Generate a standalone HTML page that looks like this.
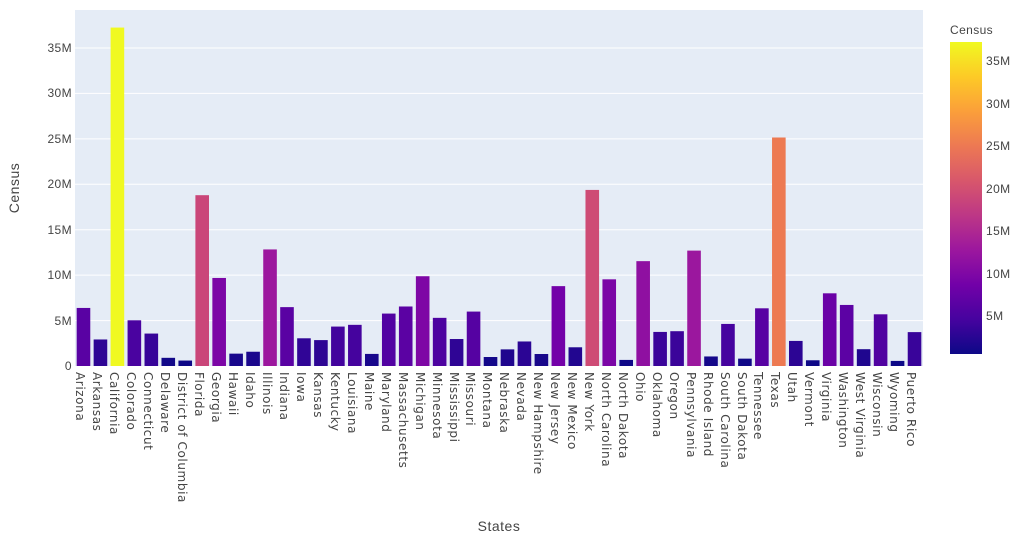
<!DOCTYPE html>
<html><head><meta charset="utf-8"><style>
body{margin:0;background:#fff;}
svg text{font-family:"Liberation Sans",Arial,sans-serif;fill:#444;font-size:12px;}
#lbl text{font-family:"DejaVu Sans",sans-serif;font-size:12px;letter-spacing:0.6px;}
</style></head><body>
<svg id="s" width="1022" height="537" xmlns="http://www.w3.org/2000/svg">
<defs><linearGradient id="cb" x1="0" y1="1" x2="0" y2="0">
<stop offset="0" stop-color="#0d0887"/><stop offset="0.111" stop-color="#46039f"/><stop offset="0.222" stop-color="#7201a8"/><stop offset="0.333" stop-color="#9c179e"/><stop offset="0.444" stop-color="#bd3786"/><stop offset="0.556" stop-color="#d8576b"/><stop offset="0.667" stop-color="#ed7953"/><stop offset="0.778" stop-color="#fb9f3a"/><stop offset="0.889" stop-color="#fdca26"/><stop offset="1" stop-color="#f0f921"/></linearGradient></defs>
<rect x="75" y="10" width="848" height="356" fill="#e5ecf6"/>
<g stroke="#fff" stroke-width="1">
<line x1="75" x2="923" y1="320.6" y2="320.6"/><line x1="75" x2="923" y1="275.1" y2="275.1"/><line x1="75" x2="923" y1="229.7" y2="229.7"/><line x1="75" x2="923" y1="184.3" y2="184.3"/><line x1="75" x2="923" y1="138.9" y2="138.9"/><line x1="75" x2="923" y1="93.4" y2="93.4"/><line x1="75" x2="923" y1="48" y2="48"/>
</g>
<g id="bars"></g>
<g text-anchor="end" style="letter-spacing:0.4px">
<text x="72" y="370">0</text><text x="72" y="325">5M</text><text x="72" y="279">10M</text><text x="72" y="234">15M</text><text x="72" y="188">20M</text><text x="72" y="143">25M</text><text x="72" y="97">30M</text><text x="72" y="52">35M</text>
</g>
<text transform="translate(19,188) rotate(-90)" text-anchor="middle" style="font-size:14px;letter-spacing:0.5px">Census</text>
<text x="499" y="531" text-anchor="middle" style="font-size:14px;letter-spacing:0.5px">States</text>
<text x="950" y="34" style="font-size:12px;letter-spacing:0.4px">Census</text>
<rect x="950" y="42" width="32" height="312" fill="url(#cb)"/>
<g style="letter-spacing:0.4px">
<text x="986" y="320">5M</text><text x="986" y="278">10M</text><text x="986" y="235">15M</text><text x="986" y="193">20M</text><text x="986" y="150">25M</text><text x="986" y="108">30M</text><text x="986" y="65">35M</text>
</g>
<g id="lbl">
<text transform="translate(80,372) rotate(90)" y="4">Arizona</text>
<text transform="translate(97,372) rotate(90)" y="4">Arkansas</text>
<text transform="translate(114,372) rotate(90)" y="4">California</text>
<text transform="translate(131,372) rotate(90)" y="4">Colorado</text>
<text transform="translate(148,372) rotate(90)" y="4">Connecticut</text>
<text transform="translate(165,372) rotate(90)" y="4">Delaware</text>
<text transform="translate(182,372) rotate(90)" y="4">District of Columbia</text>
<text transform="translate(199,372) rotate(90)" y="4">Florida</text>
<text transform="translate(216,372) rotate(90)" y="4">Georgia</text>
<text transform="translate(233,372) rotate(90)" y="4">Hawaii</text>
<text transform="translate(250,372) rotate(90)" y="4">Idaho</text>
<text transform="translate(267,372) rotate(90)" y="4">Illinois</text>
<text transform="translate(284,372) rotate(90)" y="4">Indiana</text>
<text transform="translate(301,372) rotate(90)" y="4">Iowa</text>
<text transform="translate(318,372) rotate(90)" y="4">Kansas</text>
<text transform="translate(335,372) rotate(90)" y="4">Kentucky</text>
<text transform="translate(352,372) rotate(90)" y="4">Louisiana</text>
<text transform="translate(369,372) rotate(90)" y="4">Maine</text>
<text transform="translate(386,372) rotate(90)" y="4">Maryland</text>
<text transform="translate(403,372) rotate(90)" y="4">Massachusetts</text>
<text transform="translate(420,372) rotate(90)" y="4">Michigan</text>
<text transform="translate(437,372) rotate(90)" y="4">Minnesota</text>
<text transform="translate(454,372) rotate(90)" y="4">Mississippi</text>
<text transform="translate(470,372) rotate(90)" y="4">Missouri</text>
<text transform="translate(487,372) rotate(90)" y="4">Montana</text>
<text transform="translate(504,372) rotate(90)" y="4">Nebraska</text>
<text transform="translate(521,372) rotate(90)" y="4">Nevada</text>
<text transform="translate(538,372) rotate(90)" y="4">New Hampshire</text>
<text transform="translate(555,372) rotate(90)" y="4">New Jersey</text>
<text transform="translate(572,372) rotate(90)" y="4">New Mexico</text>
<text transform="translate(589,372) rotate(90)" y="4">New York</text>
<text transform="translate(606,372) rotate(90)" y="4">North Carolina</text>
<text transform="translate(623,372) rotate(90)" y="4">North Dakota</text>
<text transform="translate(640,372) rotate(90)" y="4">Ohio</text>
<text transform="translate(657,372) rotate(90)" y="4">Oklahoma</text>
<text transform="translate(674,372) rotate(90)" y="4">Oregon</text>
<text transform="translate(691,372) rotate(90)" y="4">Pennsylvania</text>
<text transform="translate(708,372) rotate(90)" y="4">Rhode Island</text>
<text transform="translate(725,372) rotate(90)" y="4">South Carolina</text>
<text transform="translate(742,372) rotate(90)" y="4">South Dakota</text>
<text transform="translate(758,372) rotate(90)" y="4">Tennessee</text>
<text transform="translate(775,372) rotate(90)" y="4">Texas</text>
<text transform="translate(792,372) rotate(90)" y="4">Utah</text>
<text transform="translate(809,372) rotate(90)" y="4">Vermont</text>
<text transform="translate(826,372) rotate(90)" y="4">Virginia</text>
<text transform="translate(843,372) rotate(90)" y="4">Washington</text>
<text transform="translate(860,372) rotate(90)" y="4">West Virginia</text>
<text transform="translate(877,372) rotate(90)" y="4">Wisconsin</text>
<text transform="translate(894,372) rotate(90)" y="4">Wyoming</text>
<text transform="translate(911,372) rotate(90)" y="4">Puerto Rico</text>
</g>
</svg>
<script>
var v=[6.39,2.92,37.25,5.03,3.57,0.90,0.60,18.8,9.69,1.36,1.57,12.83,6.48,3.05,2.85,4.34,4.53,1.33,5.77,6.55,9.88,5.30,2.97,5.99,0.99,1.83,2.70,1.32,8.79,2.06,19.38,9.54,0.67,11.54,3.75,3.83,12.70,1.05,4.63,0.81,6.35,25.15,2.76,0.63,8.00,6.72,1.85,5.69,0.56,3.73];
var cs=["#0d0887","#46039f","#7201a8","#9c179e","#bd3786","#d8576b","#ed7953","#fb9f3a","#fdca26","#f0f921"];
function hx(h){return [1,3,5].map(i=>parseInt(h.substr(i,2),16));}
function col(t){t=Math.max(0,Math.min(1,t));var p=t*9,i=Math.min(8,Math.floor(p)),f=p-i,a=hx(cs[i]),b=hx(cs[i+1]);return "rgb("+a.map((x,k)=>Math.round(x+(b[k]-x)*f)).join(",")+")";}
var g=document.getElementById("bars"),s="",mn=0.56,mx=37.25,step=848/50,bw=13.6;
v.forEach(function(d,i){var cx=75+step*(i+0.5),h=d*9.0857;s+='<rect x="'+(cx-bw/2)+'" y="'+(366-h)+'" width="'+bw+'" height="'+h+'" fill="'+col((d-mn)/(mx-mn))+'"/>';});
g.innerHTML=s;
</script>
</body></html>
